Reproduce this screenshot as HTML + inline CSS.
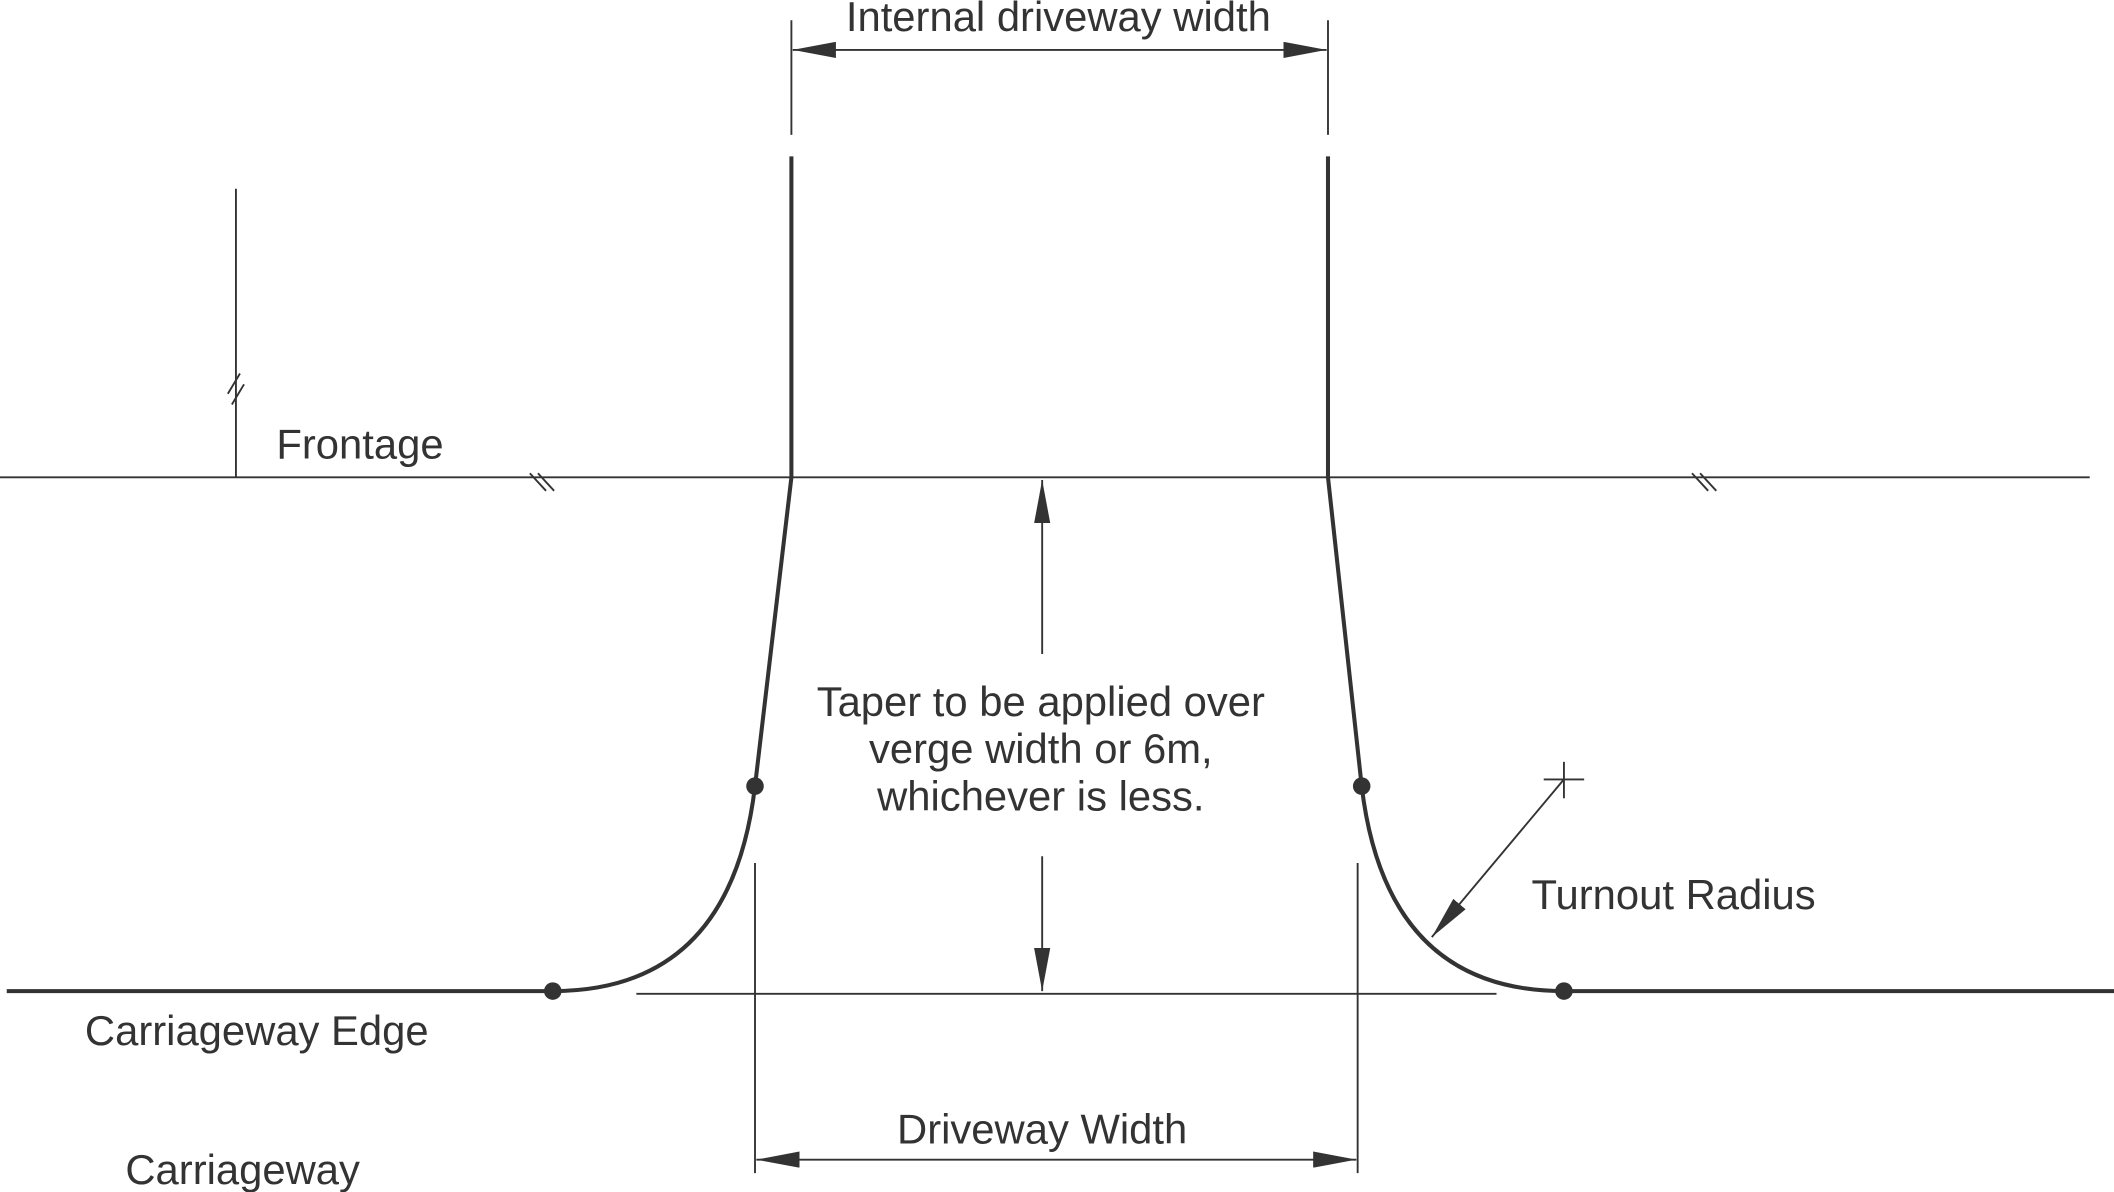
<!DOCTYPE html>
<html><head><style>html,body{margin:0;padding:0;background:#fff;}svg{display:block}</style></head>
<body>
<svg width="2114" height="1192" viewBox="0 0 1568 884" preserveAspectRatio="none" xmlns="http://www.w3.org/2000/svg">
<defs>
<marker id="a" viewBox="0 0 10 10" refX="10" refY="5" markerWidth="32" markerHeight="12" markerUnits="userSpaceOnUse" orient="auto-start-reverse" preserveAspectRatio="none"><path d="M0,0 L10,5 L0,10 z" fill="#333"/></marker>
</defs>
<g stroke="#333" fill="none">
<g stroke-width="1.4">
<line x1="0" y1="354" x2="1550" y2="354"/>
<line x1="175" y1="140" x2="175" y2="354"/>
<line x1="169" y1="292" x2="178" y2="277"/><line x1="172" y1="300" x2="181" y2="285"/>
<line x1="393" y1="351" x2="405" y2="364"/><line x1="399" y1="351" x2="411" y2="364"/>
<line x1="1255" y1="351" x2="1267" y2="364"/><line x1="1261" y1="351" x2="1273" y2="364"/>
<line x1="587" y1="15" x2="587" y2="100"/><line x1="985" y1="15" x2="985" y2="100"/>
<line x1="588" y1="37" x2="984" y2="37" marker-start="url(#a)" marker-end="url(#a)"/>
<line x1="773" y1="485" x2="773" y2="356" marker-end="url(#a)"/>
<line x1="773" y1="635" x2="773" y2="735" marker-end="url(#a)"/>
<line x1="472" y1="737" x2="1110" y2="737"/>
<line x1="560" y1="640" x2="560" y2="870"/><line x1="1007" y1="640" x2="1007" y2="870"/>
<line x1="561" y1="860" x2="1006" y2="860" marker-start="url(#a)" marker-end="url(#a)"/>
<line x1="1160" y1="578" x2="1062" y2="695" marker-end="url(#a)"/>
<line x1="1145" y1="578" x2="1175" y2="578"/><line x1="1160" y1="565" x2="1160" y2="592"/>
</g>
<g stroke-width="3">
<path d="M587,116 L587,354 L560,583 Q542,735 410,735 L5,735"/>
<path d="M985,116 L985,354 L1010,583 Q1028,735 1160,735 L1568,735"/>
</g>
</g>
<g fill="#333">
<circle cx="560" cy="583" r="6.5"/><circle cx="410" cy="735" r="6.5"/>
<circle cx="1010" cy="583" r="6.5"/><circle cx="1160" cy="735" r="6.5"/>
</g>
<g font-family="Liberation Sans, sans-serif" font-size="31" fill="#333">
<text x="785" y="23" text-anchor="middle">Internal driveway width</text>
<text x="205" y="340">Frontage</text>
<text x="772" y="531" text-anchor="middle">Taper to be applied over</text>
<text x="772" y="566" text-anchor="middle">verge width or 6m,</text>
<text x="772" y="601" text-anchor="middle">whichever is less.</text>
<text x="1136" y="674">Turnout Radius</text>
<text x="63" y="775">Carriageway Edge</text>
<text x="773" y="848" text-anchor="middle">Driveway Width</text>
<text x="93" y="878">Carriageway</text>
</g>
</svg>
</body></html>
